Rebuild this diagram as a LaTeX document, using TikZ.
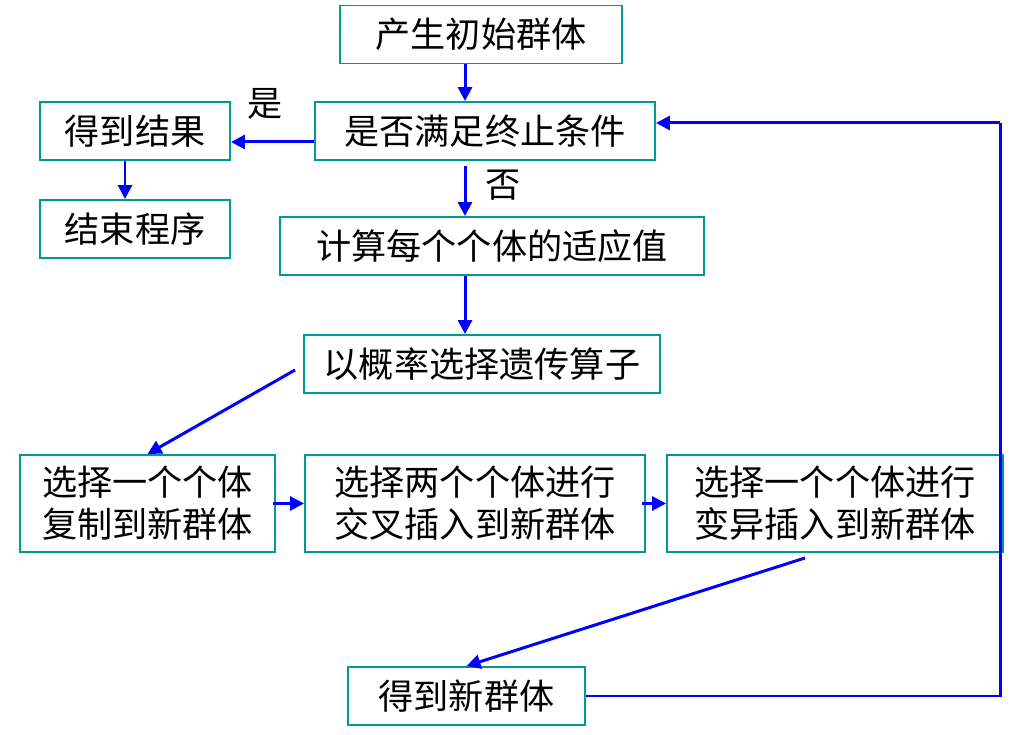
\documentclass[tikz,border=0pt]{standalone}
\usepackage{fontspec}
\setmainfont{Noto Sans CJK SC}
\usepackage{xcolor}
\usepackage{tikz}
\usetikzlibrary{arrows.meta, positioning, calc}
\definecolor{boxteal}{RGB}{0, 153, 153}
\definecolor{flowblue}{RGB}{0, 0, 255}
\tikzstyle{stepbox} = [rectangle, draw=boxteal, line width=1.1pt, minimum height=1.16cm, inner sep=0pt, align=center, font=\fontsize{20}{24}\selectfont]
\tikzstyle{tallbox} = [stepbox, minimum height=1.94cm]
\tikzstyle{arrow} = [-{Triangle[length=2.8mm, width=2.8mm]}, draw=flowblue, line width=1.7pt]
\tikzstyle{line} = [draw=flowblue, line width=1.7pt]

\begin{document}
\begin{tikzpicture}
    \useasboundingbox (0,0) rectangle (20.62,14.70);
    \coordinate (spine) at (9.30,0);
    \coordinate (back) at (20.00,0);

    % main column
    \node[stepbox, minimum width=5.64cm] (init) at (9.62,14.01) {产生初始群体};
    \node[stepbox, minimum width=6.80cm] (check) at (9.70,12.08) {是否满足终止条件};
    \node[stepbox, minimum width=8.48cm] (fitness) at (9.84,9.78) {计算每个个体的适应值};
    \node[stepbox, minimum width=7.12cm] (select) at (9.64,7.42) {以概率选择遗传算子};

    % exit branch
    \node[stepbox, minimum width=3.80cm] (result) at (2.70,12.08) {得到结果};
    \node[stepbox, minimum width=3.80cm] (stop) at (2.70,10.12) {结束程序};

    % operators
    \node[tallbox, minimum width=5.10cm] (copy) at (2.95,4.63) {选择一个个体\\复制到新群体};
    \node[tallbox, minimum width=6.80cm] (cross) at (9.50,4.63) {选择两个个体进行\\交叉插入到新群体};
    \node[tallbox, minimum width=6.72cm] (mutate) at (16.70,4.63) {选择一个个体进行\\变异插入到新群体};
    \node[stepbox, minimum width=4.74cm] (newpop) at (9.33,0.78) {得到新群体};

    % labels
    \node[font=\fontsize{20}{24}\selectfont] (yes) at (5.30,12.62) {是};
    \node[font=\fontsize{20}{24}\selectfont] (no) at (10.06,11.00) {否};

    % connectors
    \draw[arrow] (init.south -| spine) -- (check.north -| spine);
    \draw[arrow] ([yshift=-0.22cm]check.west) -- ([yshift=-0.22cm]check.west -| result.east);
    \draw[arrow] (result.south -| 2.50,0) -- (stop.north -| 2.50,0);
    \draw[arrow] ([yshift=-0.10cm]check.south -| spine) -- (fitness.north -| spine);
    \draw[arrow] (fitness.south -| spine) -- (select.north -| spine);
    \draw[arrow] ([xshift=-0.16cm, yshift=-0.12cm]select.west) -- (copy.north);
    \draw[arrow] ([xshift=-0.06cm]copy.east) -- (cross.west);
    \draw[arrow] ([xshift=-0.08cm]cross.east) -- (mutate.west);
    \draw[arrow] ([xshift=-0.60cm, yshift=-0.10cm]mutate.south) -- (newpop.north);
    \draw[line] (newpop.east) -- (newpop.east -| back) -- ([yshift=0.16cm]check.east -| back);
    \draw[arrow] ([yshift=0.16cm]check.east -| back) -- ([yshift=0.16cm]check.east);
\end{tikzpicture}
\end{document}
